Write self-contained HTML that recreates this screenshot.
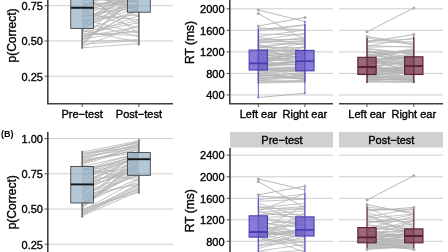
<!DOCTYPE html>
<html><head><meta charset="utf-8"><title>Figure</title>
<style>html,body{margin:0;padding:0;background:#fff;overflow:hidden}svg{display:block}</style></head>
<body>
<svg width="448" height="252" viewBox="0 0 448 252" font-family="Liberation Sans, Arial, Helvetica, sans-serif" fill="#000">
<defs>
<clipPath id="cA1"><rect x="48" y="0" width="125" height="103.5"/></clipPath>
<clipPath id="cA2"><rect x="230" y="0" width="103" height="103.5"/></clipPath>
<clipPath id="cA3"><rect x="339" y="0" width="104" height="103.5"/></clipPath>
<clipPath id="cB1"><rect x="48" y="132" width="125" height="120"/></clipPath>
<clipPath id="cB2"><rect x="230" y="147.5" width="103" height="105"/></clipPath>
<clipPath id="cB3"><rect x="339" y="147.5" width="104" height="105"/></clipPath>
</defs>
<rect width="448" height="252" fill="#fff"/>
<g clip-path="url(#cA1)">
<path d="M48 5.7H173" stroke="#cecece" stroke-width="1"/>
<path d="M48 40.95H173" stroke="#cecece" stroke-width="1"/>
<path d="M48 76.2H173" stroke="#cecece" stroke-width="1"/>
<path d="M82.15 -20.5L138.9 -19.3M82.15 14.5L138.9 19.7M82.15 35.2L138.9 31.7M82.15 -14.1L138.9 -23.4M82.15 -22.2L138.9 12.0M82.15 -2.2L138.9 23.8M82.15 17.2L138.9 4.0M82.15 39.1L138.9 30.0M82.15 -20.3L138.9 -21.0M82.15 -20.9L138.9 -25.5M82.15 28.1L138.9 3.2M82.15 16.4L138.9 6.5M82.15 41.7L138.9 39.6M82.15 34.0L138.9 22.6M82.15 -5.0L138.9 -8.9M82.15 -7.6L138.9 10.8M82.15 46.6L138.9 25.2M82.15 -9.4L138.9 1.3M82.15 -17.6L138.9 -3.2M82.15 -19.7L138.9 -22.5M82.15 2.1L138.9 -24.9M82.15 5.7L138.9 -16.2M82.15 -11.6L138.9 -9.3M82.15 -1.8L138.9 0.4M82.15 10.9L138.9 28.2M82.15 25.3L138.9 -12.4M82.15 38.5L138.9 10.2M82.15 9.4L138.9 7.0M82.15 -23.9L138.9 -25.2M82.15 27.3L138.9 -24.0M82.15 -22.6L138.9 -15.5M82.15 -6.8L138.9 33.9M82.15 -23.2L138.9 -14.3M82.15 0.1L138.9 -18.4M82.15 -16.3L138.9 -21.6M82.15 10.1L138.9 -1.0M82.15 47.8L138.9 43.6M82.15 -1.0L138.9 2.2M82.15 32.0L138.9 9.1M82.15 -21.5L138.9 -4.7M82.15 -8.7L138.9 -13.0M82.15 22.5L138.9 36.9M82.15 -3.6L138.9 -17.1M82.15 13.5L138.9 -10.2M82.15 3.0L138.9 5.3M82.15 -18.4L138.9 -0.6M82.15 20.2L138.9 14.7M82.15 -17.8L138.9 -14.5M82.15 44.7L138.9 -8.1M82.15 -13.8L138.9 -22.2M82.15 23.5L138.9 -7.4M82.15 1.6L138.9 -15.4M82.15 32.3L138.9 20.4M82.15 -15.3L138.9 -18.9M82.15 36.4L138.9 27.2M82.15 -5.7L138.9 -8.3M82.15 40.3L138.9 8.4M82.15 22.4L138.9 5.0M82.15 4.0L138.9 1.7M82.15 -16.9L138.9 -6.7M82.15 28.7L138.9 -4.2M82.15 15.5L138.9 -6.2M82.15 43.1L138.9 -5.9M82.15 -12.4L138.9 17.1M82.15 19.3L138.9 33.4M82.15 18.2L138.9 -3.4M82.15 11.9L138.9 -11.4M82.15 8.8L138.9 -20.2M82.15 6.4L138.9 -1.8M82.15 -14.9L138.9 -13.5M82.15 -18.8L138.9 12.7M82.15 -13.5L138.9 -10.6M82.15 21.1L138.9 -10.9M82.15 40.9L138.9 -20.2M82.15 33.8L138.9 35.3M82.15 37.5L138.9 15.5M82.15 30.6L138.9 -17.2M82.15 25.6L138.9 7.7M82.15 7.3L138.9 -23.0M82.15 30.1L138.9 42.4M82.15 44.1L138.9 40.6M82.15 -10.1L138.9 -5.5M82.15 -16.0L138.9 -17.9M82.15 45.3L138.9 -12.0" stroke="#b5b5b5" stroke-width="0.8" fill="none"/>
<path d="M82.15 -25V-14M82.15 28.4V47.8" stroke="#646464" stroke-width="1.5" fill="none"/>
<rect x="70.75" y="-14" width="22.8" height="42.4" fill="#8fadc2" fill-opacity="0.68" stroke="#3a3a3a" stroke-width="0.85"/>
<path d="M70.75 7.8H93.55" stroke="#161616" stroke-width="1.9"/>
<path d="M138.9 -25V-14M138.9 12.2V44.4" stroke="#646464" stroke-width="1.5" fill="none"/>
<rect x="127.5" y="-14" width="22.8" height="26.2" fill="#8fadc2" fill-opacity="0.68" stroke="#3a3a3a" stroke-width="0.85"/>
<path d="M127.5 -4H150.3" stroke="#161616" stroke-width="1.9"/>
<circle cx="82.15" cy="47.8" r="1.2" fill="#8a8a8a"/><circle cx="138.9" cy="44.4" r="1.2" fill="#8a8a8a"/>
</g>
<path d="M47.8 0V103.7H173" stroke="#404040" stroke-width="1.6" fill="none"/>
<path d="M44.5 5.7H48" stroke="#404040" stroke-width="0.9"/>
<path d="M44.5 40.95H48" stroke="#404040" stroke-width="0.9"/>
<path d="M44.5 76.2H48" stroke="#404040" stroke-width="0.9"/>
<path d="M82.15 103.7V107" stroke="#404040" stroke-width="0.9"/>
<path d="M138.9 103.7V107" stroke="#404040" stroke-width="0.9"/>
<text x="43" y="10.0" font-size="11" text-anchor="end" stroke="#000" stroke-width="0.35">0.75</text>
<text x="43" y="45.25" font-size="11" text-anchor="end" stroke="#000" stroke-width="0.35">0.50</text>
<text x="43" y="80.5" font-size="11" text-anchor="end" stroke="#000" stroke-width="0.35">0.25</text>
<text x="82.15" y="117.8" font-size="11" text-anchor="middle" stroke="#000" stroke-width="0.35">Pre−test</text>
<text x="138.9" y="117.8" font-size="11" text-anchor="middle" stroke="#000" stroke-width="0.35">Post−test</text>
<text transform="translate(15.5 35.5) rotate(-90)" font-size="12" text-anchor="middle" stroke="#000" stroke-width="0.35">p(Correct)</text>
<g clip-path="url(#cA2)">
<path d="M230 8.8H333" stroke="#cecece" stroke-width="1"/>
<path d="M230 30.3H333" stroke="#cecece" stroke-width="1"/>
<path d="M230 51.9H333" stroke="#cecece" stroke-width="1"/>
<path d="M230 73.4H333" stroke="#cecece" stroke-width="1"/>
<path d="M230 94.95H333" stroke="#cecece" stroke-width="1"/>
<path d="M258.3 49.0L304.9 52.4M258.3 44.2L304.9 66.5M258.3 69.2L304.9 70.5M258.3 40.6L304.9 39.0M258.3 54.2L304.9 54.5M258.3 74.3L304.9 79.8M258.3 78.8L304.9 75.2M258.3 34.0L304.9 35.0M258.3 68.0L304.9 69.2M258.3 81.8L304.9 80.3M258.3 78.7L304.9 75.6M258.3 58.9L304.9 53.6M258.3 51.4L304.9 43.1M258.3 56.7L304.9 63.0M258.3 37.0L304.9 45.3M258.3 57.0L304.9 56.7M258.3 62.2L304.9 51.5M258.3 62.8L304.9 46.6M258.3 77.7L304.9 76.7M258.3 60.5L304.9 56.3M258.3 36.5L304.9 29.9M258.3 75.8L304.9 72.9M258.3 40.0L304.9 33.3M258.3 53.5L304.9 53.1M258.3 63.7L304.9 62.4M258.3 55.0L304.9 57.4M258.3 42.5L304.9 44.1M258.3 58.4L304.9 59.1M258.3 83.0L304.9 82.0M258.3 50.3L304.9 50.5M258.3 63.5L304.9 55.2M258.3 76.8L304.9 73.8M258.3 70.1L304.9 70.0M258.3 70.6L304.9 72.2M258.3 73.3L304.9 78.7M258.3 29.7L304.9 24.7M258.3 45.8L304.9 50.9M258.3 65.9L304.9 63.7M258.3 67.4L304.9 76.4M258.3 80.4L304.9 81.5M258.3 67.4L304.9 60.1M258.3 59.5L304.9 62.1M258.3 65.4L304.9 59.7M258.3 61.2L304.9 65.2M258.3 66.1L304.9 60.6M258.3 68.8L304.9 68.6M258.3 55.7L304.9 53.7M258.3 47.2L304.9 47.7M258.3 46.3L304.9 42.8M258.3 76.2L304.9 67.0M258.3 79.8L304.9 77.9M258.3 75.1L304.9 77.4M258.3 73.2L304.9 69.9M258.3 72.3L304.9 68.0M258.3 64.8L304.9 64.2M258.3 68.5L304.9 72.0M258.3 41.4L304.9 41.6M258.3 61.7L304.9 58.0M258.3 49.7L304.9 58.6M258.3 69.9L304.9 65.9M258.3 51.6L304.9 50.3M258.3 64.4L304.9 49.3M258.3 66.3L304.9 64.3M258.3 80.9L304.9 74.3M258.3 48.1L304.9 40.5M258.3 43.2L304.9 37.3M258.3 71.2L304.9 79.2M258.3 39.2L304.9 40.1M258.3 66.8L304.9 67.6M258.3 52.2L304.9 65.4M258.3 64.7L304.9 61.5M258.3 31.0L304.9 25.4M258.3 69.6L304.9 71.4M258.3 53.3L304.9 46.9M258.3 44.7L304.9 55.6M258.3 82.7L304.9 80.9" stroke="#b5b5b5" stroke-width="0.8" fill="none"/>
<path d="M258.3 10.0L304.9 21.5M258.3 13.5L304.9 40.0M258.3 26.0L304.9 17.5M258.3 97.5L304.9 93.3M258.3 28.0L304.9 30.0" stroke="#b0b0b0" stroke-width="0.9" fill="none"/>
<path d="M258.3 26V50.1M258.3 70V97.5" stroke="#4a3cb4" stroke-width="0.8" fill="none"/>
<rect x="249.15" y="50.1" width="18.3" height="19.9" fill="#6152cc" fill-opacity="0.76" stroke="#4a3cb4" stroke-width="1.1"/>
<path d="M249.15 63.3H267.45" stroke="#4a3cb4" stroke-width="1.8"/>
<path d="M304.9 21.5V50.4M304.9 70.8V93.3" stroke="#4a3cb4" stroke-width="0.8" fill="none"/>
<rect x="295.75" y="50.4" width="18.3" height="20.4" fill="#6152cc" fill-opacity="0.76" stroke="#4a3cb4" stroke-width="1.1"/>
<path d="M295.75 61.1H314.05" stroke="#4a3cb4" stroke-width="1.8"/>
<path d="M258.3 29.7V83.0" stroke="#4a3cb4" stroke-width="1.5" stroke-opacity="0.65" stroke-linecap="round"/>
<path d="M304.9 24.7V82.0" stroke="#4a3cb4" stroke-width="1.5" stroke-opacity="0.65" stroke-linecap="round"/>
<circle cx="258.3" cy="26" r="1" fill="#4a3cb4" fill-opacity="0.55"/>
<circle cx="258.3" cy="97.5" r="1" fill="#4a3cb4" fill-opacity="0.55"/>
<circle cx="304.9" cy="21.5" r="1" fill="#4a3cb4" fill-opacity="0.55"/>
<circle cx="304.9" cy="93.3" r="1" fill="#4a3cb4" fill-opacity="0.55"/>
<circle cx="258.3" cy="10" r="1.5" fill="#adadad"/>
<circle cx="258.3" cy="13.5" r="1.5" fill="#adadad"/>
<circle cx="258.3" cy="26" r="1.5" fill="#adadad"/>
<circle cx="304.9" cy="17.5" r="1.5" fill="#adadad"/>
</g>
<g clip-path="url(#cA3)">
<path d="M339 8.8H443" stroke="#cecece" stroke-width="1"/>
<path d="M339 30.3H443" stroke="#cecece" stroke-width="1"/>
<path d="M339 51.9H443" stroke="#cecece" stroke-width="1"/>
<path d="M339 73.4H443" stroke="#cecece" stroke-width="1"/>
<path d="M339 94.95H443" stroke="#cecece" stroke-width="1"/>
<path d="M367 45.5L413.8 47.2M367 38.0L413.8 44.9M367 57.7L413.8 50.5M367 77.4L413.8 76.9M367 66.1L413.8 61.9M367 40.7L413.8 39.2M367 53.8L413.8 62.6M367 71.9L413.8 68.3M367 81.2L413.8 77.3M367 77.6L413.8 78.2M367 70.5L413.8 66.5M367 68.5L413.8 60.3M367 52.1L413.8 58.6M367 59.9L413.8 56.6M367 63.3L413.8 63.1M367 56.3L413.8 49.4M367 67.3L413.8 71.4M367 61.4L413.8 53.3M367 69.7L413.8 74.7M367 80.6L413.8 71.0M367 74.9L413.8 80.5M367 71.3L413.8 67.0M367 64.7L413.8 55.0M367 47.1L413.8 46.4M367 65.7L413.8 64.1M367 72.5L413.8 64.6M367 52.7L413.8 51.6M367 79.3L413.8 80.3M367 62.9L413.8 61.7M367 70.9L413.8 52.7M367 63.9L413.8 60.5M367 48.4L413.8 53.9M367 81.9L413.8 82.3M367 51.3L413.8 57.1M367 75.7L413.8 71.9M367 58.2L413.8 72.8M367 69.0L413.8 73.2M367 54.7L413.8 58.3M367 60.7L413.8 64.9M367 76.2L413.8 79.6M367 81.9L413.8 81.7M367 54.3L413.8 52.1M367 66.9L413.8 70.1M367 76.4L413.8 77.5M367 56.8L413.8 48.6M367 74.0L413.8 65.9M367 55.6L413.8 59.7M367 73.2L413.8 72.3M367 72.1L413.8 70.5M367 78.5L413.8 80.7M367 70.4L413.8 68.9M367 50.2L413.8 61.2M367 73.8L413.8 68.7M367 51.6L413.8 51.0M367 75.3L413.8 75.1M367 80.9L413.8 81.4M367 73.1L413.8 76.6M367 58.9L413.8 65.5M367 77.9L413.8 76.0M367 67.9L413.8 74.1M367 48.9L413.8 54.4M367 61.8L413.8 56.4M367 80.2L413.8 78.9M367 64.1L413.8 73.8M367 67.7L413.8 69.8M367 62.2L413.8 59.2M367 46.2L413.8 37.8M367 59.5L413.8 55.7M367 70.0L413.8 63.7M367 68.6L413.8 67.5M367 65.3L413.8 75.6M367 42.3L413.8 41.8M367 78.9L413.8 79.4M367 74.4L413.8 67.9M367 76.8L413.8 69.4M367 79.5L413.8 78.7M367 60.1L413.8 58.0M367 57.3L413.8 74.5" stroke="#b5b5b5" stroke-width="0.8" fill="none"/>
<path d="M367 31.8L413.8 8.0M367 36.5L413.8 44.0M367 42.0L413.8 34.5" stroke="#b0b0b0" stroke-width="0.9" fill="none"/>
<path d="M367 36.5V57.3M367 74.5V82.3" stroke="#5a1c31" stroke-width="0.8" fill="none"/>
<rect x="357.85" y="57.3" width="18.3" height="17.200000000000003" fill="#7a384d" fill-opacity="0.76" stroke="#5a1c31" stroke-width="1.1"/>
<path d="M357.85 67H376.15000000000003" stroke="#5a1c31" stroke-width="1.8"/>
<path d="M413.8 34.5V56.8M413.8 74.5V82.3" stroke="#5a1c31" stroke-width="0.8" fill="none"/>
<rect x="404.65000000000003" y="56.8" width="18.3" height="17.700000000000003" fill="#7a384d" fill-opacity="0.76" stroke="#5a1c31" stroke-width="1.1"/>
<path d="M404.65000000000003 66.2H422.95000000000005" stroke="#5a1c31" stroke-width="1.8"/>
<path d="M367 38.0V81.9" stroke="#5a1c31" stroke-width="1.5" stroke-opacity="0.65" stroke-linecap="round"/>
<path d="M413.8 37.8V82.3" stroke="#5a1c31" stroke-width="1.5" stroke-opacity="0.65" stroke-linecap="round"/>
<circle cx="367" cy="36.5" r="1" fill="#5a1c31" fill-opacity="0.55"/>
<circle cx="367" cy="82.3" r="1" fill="#5a1c31" fill-opacity="0.55"/>
<circle cx="413.8" cy="34.5" r="1" fill="#5a1c31" fill-opacity="0.55"/>
<circle cx="413.8" cy="82.3" r="1" fill="#5a1c31" fill-opacity="0.55"/>
<circle cx="367" cy="31.8" r="1.5" fill="#adadad"/>
<circle cx="413.8" cy="8" r="1.5" fill="#adadad"/>
<circle cx="367" cy="36.5" r="1.5" fill="#adadad"/>
<circle cx="413.8" cy="34.5" r="1.5" fill="#adadad"/>
</g>
<path d="M229.8 0V103.7H333" stroke="#404040" stroke-width="1.6" fill="none"/>
<path d="M339 103.7H443" stroke="#404040" stroke-width="1.6" fill="none"/>
<path d="M226.5 8.8H230" stroke="#404040" stroke-width="0.9"/>
<text x="224.6" y="13.0" font-size="11" text-anchor="end" stroke="#000" stroke-width="0.35">2000</text>
<path d="M226.5 30.3H230" stroke="#404040" stroke-width="0.9"/>
<text x="224.6" y="34.5" font-size="11" text-anchor="end" stroke="#000" stroke-width="0.35">1600</text>
<path d="M226.5 51.9H230" stroke="#404040" stroke-width="0.9"/>
<text x="224.6" y="56.1" font-size="11" text-anchor="end" stroke="#000" stroke-width="0.35">1200</text>
<path d="M226.5 73.4H230" stroke="#404040" stroke-width="0.9"/>
<text x="224.6" y="77.60000000000001" font-size="11" text-anchor="end" stroke="#000" stroke-width="0.35">800</text>
<path d="M226.5 94.95H230" stroke="#404040" stroke-width="0.9"/>
<text x="224.6" y="99.15" font-size="11" text-anchor="end" stroke="#000" stroke-width="0.35">400</text>
<path d="M258.3 103.7V107" stroke="#404040" stroke-width="0.9"/>
<text x="258.3" y="117.8" font-size="11" text-anchor="middle" stroke="#000" stroke-width="0.35">Left ear</text>
<path d="M304.9 103.7V107" stroke="#404040" stroke-width="0.9"/>
<text x="304.9" y="117.8" font-size="11" text-anchor="middle" stroke="#000" stroke-width="0.35">Right ear</text>
<path d="M367 103.7V107" stroke="#404040" stroke-width="0.9"/>
<text x="367" y="117.8" font-size="11" text-anchor="middle" stroke="#000" stroke-width="0.35">Left ear</text>
<path d="M413.8 103.7V107" stroke="#404040" stroke-width="0.9"/>
<text x="413.8" y="117.8" font-size="11" text-anchor="middle" stroke="#000" stroke-width="0.35">Right ear</text>
<text transform="translate(193.5 42.5) rotate(-90)" font-size="12" text-anchor="middle" stroke="#000" stroke-width="0.35">RT (ms)</text>
<text x="1" y="137.2" font-size="9" font-weight="bold">(B)</text>
<g clip-path="url(#cB1)">
<path d="M48 138.6H173" stroke="#cecece" stroke-width="1"/>
<path d="M48 173.8H173" stroke="#cecece" stroke-width="1"/>
<path d="M48 209.0H173" stroke="#cecece" stroke-width="1"/>
<path d="M48 244.2H173" stroke="#cecece" stroke-width="1"/>
<path d="M82.15 169.9L138.9 152.9M82.15 182.0L138.9 160.2M82.15 215.8L138.9 191.3M82.15 154.9L138.9 141.7M82.15 202.5L138.9 170.7M82.15 159.2L138.9 144.5M82.15 213.8L138.9 183.6M82.15 211.0L138.9 179.4M82.15 174.8L138.9 154.1M82.15 214.3L138.9 186.1M82.15 194.3L138.9 175.1M82.15 211.9L138.9 185.1M82.15 200.2L138.9 157.2M82.15 172.5L138.9 154.9M82.15 177.9L138.9 177.7M82.15 191.5L138.9 164.0M82.15 205.4L138.9 161.6M82.15 197.5L138.9 160.9M82.15 215.0L138.9 187.9M82.15 186.9L138.9 170.6M82.15 176.8L138.9 156.0M82.15 171.2L138.9 155.4M82.15 167.8L138.9 180.7M82.15 157.8L138.9 144.0M82.15 163.3L138.9 145.2M82.15 208.4L138.9 158.0M82.15 193.1L138.9 151.8M82.15 189.4L138.9 167.4M82.15 202.4L138.9 172.7M82.15 209.9L138.9 189.1M82.15 204.6L138.9 154.5M82.15 206.5L138.9 162.5M82.15 173.5L138.9 168.2M82.15 183.7L138.9 169.2M82.15 169.1L138.9 158.6M82.15 192.2L138.9 172.5M82.15 166.7L138.9 153.5M82.15 179.7L138.9 156.3M82.15 188.9L138.9 158.8M82.15 185.1L138.9 165.7M82.15 182.6L138.9 157.0M82.15 176.1L138.9 157.8M82.15 212.4L138.9 190.0M82.15 180.0L138.9 151.1M82.15 162.7L138.9 146.6M82.15 198.3L138.9 174.5M82.15 160.9L138.9 149.7M82.15 161.5L138.9 149.9M82.15 195.2L138.9 184.3M82.15 157.0L138.9 147.8M82.15 152.1L138.9 140.8M82.15 198.9L138.9 182.5M82.15 209.2L138.9 192.3M82.15 156.4L138.9 142.0M82.15 164.3L138.9 148.4M82.15 203.5L138.9 178.5M82.15 153.4L138.9 143.0M82.15 165.3L138.9 176.5M82.15 159.5L138.9 152.7M82.15 185.8L138.9 155.1M82.15 153.9L138.9 146.4M82.15 207.6L138.9 165.2" stroke="#b5b5b5" stroke-width="0.8" fill="none"/>
<path d="M82.15 151.9V166.5M82.15 203V216.5" stroke="#646464" stroke-width="1.5" fill="none"/>
<rect x="70.75" y="166.5" width="22.8" height="36.5" fill="#8fadc2" fill-opacity="0.68" stroke="#3a3a3a" stroke-width="0.85"/>
<path d="M70.75 184.4H93.55" stroke="#161616" stroke-width="1.9"/>
<path d="M138.9 140.2V152.6M138.9 175.3V192.8" stroke="#646464" stroke-width="1.5" fill="none"/>
<rect x="127.5" y="152.6" width="22.8" height="22.700000000000017" fill="#8fadc2" fill-opacity="0.68" stroke="#3a3a3a" stroke-width="0.85"/>
<path d="M127.5 159.2H150.3" stroke="#161616" stroke-width="1.9"/>
<circle cx="82.15" cy="151.9" r="1.2" fill="#8a8a8a"/>
<circle cx="82.15" cy="216.5" r="1.2" fill="#8a8a8a"/>
<circle cx="138.9" cy="140.2" r="1.2" fill="#8a8a8a"/>
<circle cx="138.9" cy="192.8" r="1.2" fill="#8a8a8a"/>
</g>
<path d="M47.8 132V252" stroke="#404040" stroke-width="1.6" fill="none"/>
<path d="M44.5 138.6H48" stroke="#404040" stroke-width="0.9"/>
<text x="43" y="142.9" font-size="11" text-anchor="end" stroke="#000" stroke-width="0.35">1.00</text>
<path d="M44.5 173.8H48" stroke="#404040" stroke-width="0.9"/>
<text x="43" y="178.10000000000002" font-size="11" text-anchor="end" stroke="#000" stroke-width="0.35">0.75</text>
<path d="M44.5 209.0H48" stroke="#404040" stroke-width="0.9"/>
<text x="43" y="213.3" font-size="11" text-anchor="end" stroke="#000" stroke-width="0.35">0.50</text>
<path d="M44.5 244.2H48" stroke="#404040" stroke-width="0.9"/>
<text x="43" y="248.5" font-size="11" text-anchor="end" stroke="#000" stroke-width="0.35">0.25</text>
<text transform="translate(15.8 202.3) rotate(-90)" font-size="12" text-anchor="middle" stroke="#000" stroke-width="0.35">p(Correct)</text>
<rect x="230" y="132" width="103" height="15.5" fill="#d0d0d0"/>
<rect x="339" y="132" width="104" height="15.5" fill="#d0d0d0"/>
<text x="282" y="144.4" font-size="11" text-anchor="middle" stroke="#000" stroke-width="0.35">Pre−test</text>
<text x="391.3" y="144.4" font-size="11" text-anchor="middle" stroke="#000" stroke-width="0.35">Post−test</text>
<g clip-path="url(#cB2)">
<path d="M230 155.2H333" stroke="#cecece" stroke-width="1"/>
<path d="M230 176.75H333" stroke="#cecece" stroke-width="1"/>
<path d="M230 198.3H333" stroke="#cecece" stroke-width="1"/>
<path d="M230 219.8H333" stroke="#cecece" stroke-width="1"/>
<path d="M230 241.3H333" stroke="#cecece" stroke-width="1"/>
<path d="M258.3 245.5L304.9 241.7M258.3 233.9L304.9 242.9M258.3 216.8L304.9 225.8M258.3 235.7L304.9 252.1M258.3 233.3L304.9 233.5M258.3 225.6L304.9 232.8M258.3 201.3L304.9 199.2M258.3 230.5L304.9 238.0M258.3 236.4L304.9 230.0M258.3 226.9L304.9 235.0M258.3 205.2L304.9 223.0M258.3 234.8L304.9 232.3M258.3 240.2L304.9 239.8M258.3 232.3L304.9 220.0M258.3 234.2L304.9 229.5M258.3 219.4L304.9 224.4M258.3 214.5L304.9 210.8M258.3 235.2L304.9 221.3M258.3 217.7L304.9 215.9M258.3 232.5L304.9 231.5M258.3 254.9L304.9 255.2M258.3 237.5L304.9 246.3M258.3 231.2L304.9 204.8M258.3 203.2L304.9 217.6M258.3 228.3L304.9 224.5M258.3 240.8L304.9 227.0M258.3 212.6L304.9 208.2M258.3 222.1L304.9 228.2M258.3 199.7L304.9 194.0M258.3 236.0L304.9 230.5M258.3 214.7L304.9 214.3M258.3 236.7L304.9 212.9M258.3 253.8L304.9 250.1M258.3 224.3L304.9 220.4M258.3 246.6L304.9 234.1M258.3 233.2L304.9 235.8M258.3 222.9L304.9 248.8M258.3 220.1L304.9 234.7M258.3 210.8L304.9 193.7M258.3 251.8L304.9 253.6M258.3 244.9L304.9 233.3M258.3 209.7L304.9 206.6M258.3 242.5L304.9 231.0M258.3 211.6L304.9 218.9M258.3 207.7L304.9 209.5M258.3 251.1L304.9 244.4M258.3 208.0L304.9 203.2M258.3 248.6L304.9 236.6" stroke="#b5b5b5" stroke-width="0.8" fill="none"/>
<path d="M258.3 178.9L304.9 190.0M258.3 181.6L304.9 208.0M258.3 194.8L304.9 186.0M258.3 196.0L304.9 199.0" stroke="#b0b0b0" stroke-width="0.9" fill="none"/>
<path d="M258.3 194.8V215.8M258.3 237.1V266" stroke="#4a3cb4" stroke-width="0.8" fill="none"/>
<rect x="249.15" y="215.8" width="18.3" height="21.299999999999983" fill="#6152cc" fill-opacity="0.76" stroke="#4a3cb4" stroke-width="1.1"/>
<path d="M249.15 232H267.45" stroke="#4a3cb4" stroke-width="1.8"/>
<path d="M304.9 186V216.9M304.9 236V262" stroke="#4a3cb4" stroke-width="0.8" fill="none"/>
<rect x="295.75" y="216.9" width="18.3" height="19.099999999999994" fill="#6152cc" fill-opacity="0.76" stroke="#4a3cb4" stroke-width="1.1"/>
<path d="M295.75 229.8H314.05" stroke="#4a3cb4" stroke-width="1.8"/>
<path d="M258.3 199.7V254.9" stroke="#4a3cb4" stroke-width="1.25" stroke-opacity="0.5" stroke-linecap="round"/>
<path d="M304.9 193.7V255.2" stroke="#4a3cb4" stroke-width="1.25" stroke-opacity="0.5" stroke-linecap="round"/>
<circle cx="258.3" cy="194.8" r="1" fill="#4a3cb4" fill-opacity="0.55"/>
<circle cx="258.3" cy="266" r="1" fill="#4a3cb4" fill-opacity="0.55"/>
<circle cx="304.9" cy="186" r="1" fill="#4a3cb4" fill-opacity="0.55"/>
<circle cx="304.9" cy="262" r="1" fill="#4a3cb4" fill-opacity="0.55"/>
<circle cx="258.3" cy="178.9" r="1.5" fill="#adadad"/>
<circle cx="258.3" cy="181.6" r="1.5" fill="#adadad"/>
<circle cx="258.3" cy="194.8" r="1.5" fill="#adadad"/>
<circle cx="304.9" cy="186" r="1.5" fill="#adadad"/>
</g>
<g clip-path="url(#cB3)">
<path d="M339 155.2H443" stroke="#cecece" stroke-width="1"/>
<path d="M339 176.75H443" stroke="#cecece" stroke-width="1"/>
<path d="M339 198.3H443" stroke="#cecece" stroke-width="1"/>
<path d="M339 219.8H443" stroke="#cecece" stroke-width="1"/>
<path d="M339 241.3H443" stroke="#cecece" stroke-width="1"/>
<path d="M367 241.7L413.8 241.2M367 234.2L413.8 229.6M367 239.8L413.8 232.2M367 242.5L413.8 248.3M367 230.8L413.8 239.5M367 223.4L413.8 214.6M367 247.3L413.8 242.1M367 237.3L413.8 233.2M367 225.7L413.8 227.1M367 240.9L413.8 231.1M367 208.1L413.8 226.7M367 237.6L413.8 220.6M367 212.6L413.8 224.7M367 230.0L413.8 237.7M367 207.1L413.8 212.1M367 222.0L413.8 218.6M367 244.8L413.8 245.8M367 233.0L413.8 236.4M367 217.2L413.8 208.3M367 248.7L413.8 245.0M367 224.4L413.8 234.1M367 247.9L413.8 247.1M367 228.8L413.8 228.9M367 209.5L413.8 209.9M367 249.6L413.8 245.9M367 229.6L413.8 223.9M367 243.4L413.8 249.5M367 246.0L413.8 239.2M367 214.3L413.8 233.9M367 238.5L413.8 239.8M367 227.9L413.8 231.3M367 242.1L413.8 243.6M367 236.7L413.8 234.5M367 215.6L413.8 235.6M367 237.9L413.8 240.4M367 243.8L413.8 244.4M367 231.6L413.8 231.9M367 241.3L413.8 243.2M367 228.5L413.8 216.3M367 234.8L413.8 235.2M367 240.7L413.8 237.0M367 238.8L413.8 241.9M367 247.1L413.8 247.8M367 245.0L413.8 232.6M367 244.1L413.8 242.8M367 242.6L413.8 246.6M367 239.0L413.8 229.3M367 218.3L413.8 214.1M367 245.5L413.8 249.1M367 248.3L413.8 247.6M367 239.3L413.8 236.9M367 232.3L413.8 220.0M367 235.5L413.8 238.1M367 246.6L413.8 244.5M367 240.1L413.8 241.0M367 220.2L413.8 230.3M367 233.5L413.8 238.5M367 221.6L413.8 221.6" stroke="#b5b5b5" stroke-width="0.8" fill="none"/>
<path d="M367 200.1L413.8 175.7M367 204.5L413.8 214.0M367 211.0L413.8 207.4" stroke="#b0b0b0" stroke-width="0.9" fill="none"/>
<path d="M367 204.5V227.6M367 242.8V249.6" stroke="#5a1c31" stroke-width="0.8" fill="none"/>
<rect x="357.85" y="227.6" width="18.3" height="15.200000000000017" fill="#7a384d" fill-opacity="0.76" stroke="#5a1c31" stroke-width="1.1"/>
<path d="M357.85 237.4H376.15000000000003" stroke="#5a1c31" stroke-width="1.8"/>
<path d="M413.8 207.4V228.9M413.8 242.8V249.6" stroke="#5a1c31" stroke-width="0.8" fill="none"/>
<rect x="404.65000000000003" y="228.9" width="18.3" height="13.900000000000006" fill="#7a384d" fill-opacity="0.76" stroke="#5a1c31" stroke-width="1.1"/>
<path d="M404.65000000000003 236H422.95000000000005" stroke="#5a1c31" stroke-width="1.8"/>
<path d="M367 207.1V249.6" stroke="#5a1c31" stroke-width="1.25" stroke-opacity="0.5" stroke-linecap="round"/>
<path d="M413.8 208.3V249.5" stroke="#5a1c31" stroke-width="1.25" stroke-opacity="0.5" stroke-linecap="round"/>
<circle cx="367" cy="204.5" r="1" fill="#5a1c31" fill-opacity="0.55"/>
<circle cx="367" cy="249.6" r="1" fill="#5a1c31" fill-opacity="0.55"/>
<circle cx="413.8" cy="207.4" r="1" fill="#5a1c31" fill-opacity="0.55"/>
<circle cx="413.8" cy="249.6" r="1" fill="#5a1c31" fill-opacity="0.55"/>
<circle cx="367" cy="200.1" r="1.5" fill="#adadad"/>
<circle cx="413.8" cy="175.7" r="1.5" fill="#adadad"/>
<circle cx="367" cy="204.5" r="1.5" fill="#adadad"/>
<circle cx="413.8" cy="207.4" r="1.5" fill="#adadad"/>
<circle cx="367" cy="249.6" r="1.5" fill="#adadad"/>
<circle cx="413.8" cy="249.6" r="1.5" fill="#adadad"/>
</g>
<path d="M230 148V252" stroke="#404040" stroke-width="1.6" fill="none"/>
<path d="M226.5 155.2H230" stroke="#404040" stroke-width="0.9"/>
<text x="224.6" y="159.39999999999998" font-size="11" text-anchor="end" stroke="#000" stroke-width="0.35">2400</text>
<path d="M226.5 176.75H230" stroke="#404040" stroke-width="0.9"/>
<text x="224.6" y="180.95" font-size="11" text-anchor="end" stroke="#000" stroke-width="0.35">2000</text>
<path d="M226.5 198.3H230" stroke="#404040" stroke-width="0.9"/>
<text x="224.6" y="202.5" font-size="11" text-anchor="end" stroke="#000" stroke-width="0.35">1600</text>
<path d="M226.5 219.8H230" stroke="#404040" stroke-width="0.9"/>
<text x="224.6" y="224.0" font-size="11" text-anchor="end" stroke="#000" stroke-width="0.35">1200</text>
<path d="M226.5 241.3H230" stroke="#404040" stroke-width="0.9"/>
<text x="224.6" y="245.5" font-size="11" text-anchor="end" stroke="#000" stroke-width="0.35">800</text>
<text transform="translate(193.5 210.7) rotate(-90)" font-size="12" text-anchor="middle" stroke="#000" stroke-width="0.35">RT (ms)</text>
</svg>
</body></html>
